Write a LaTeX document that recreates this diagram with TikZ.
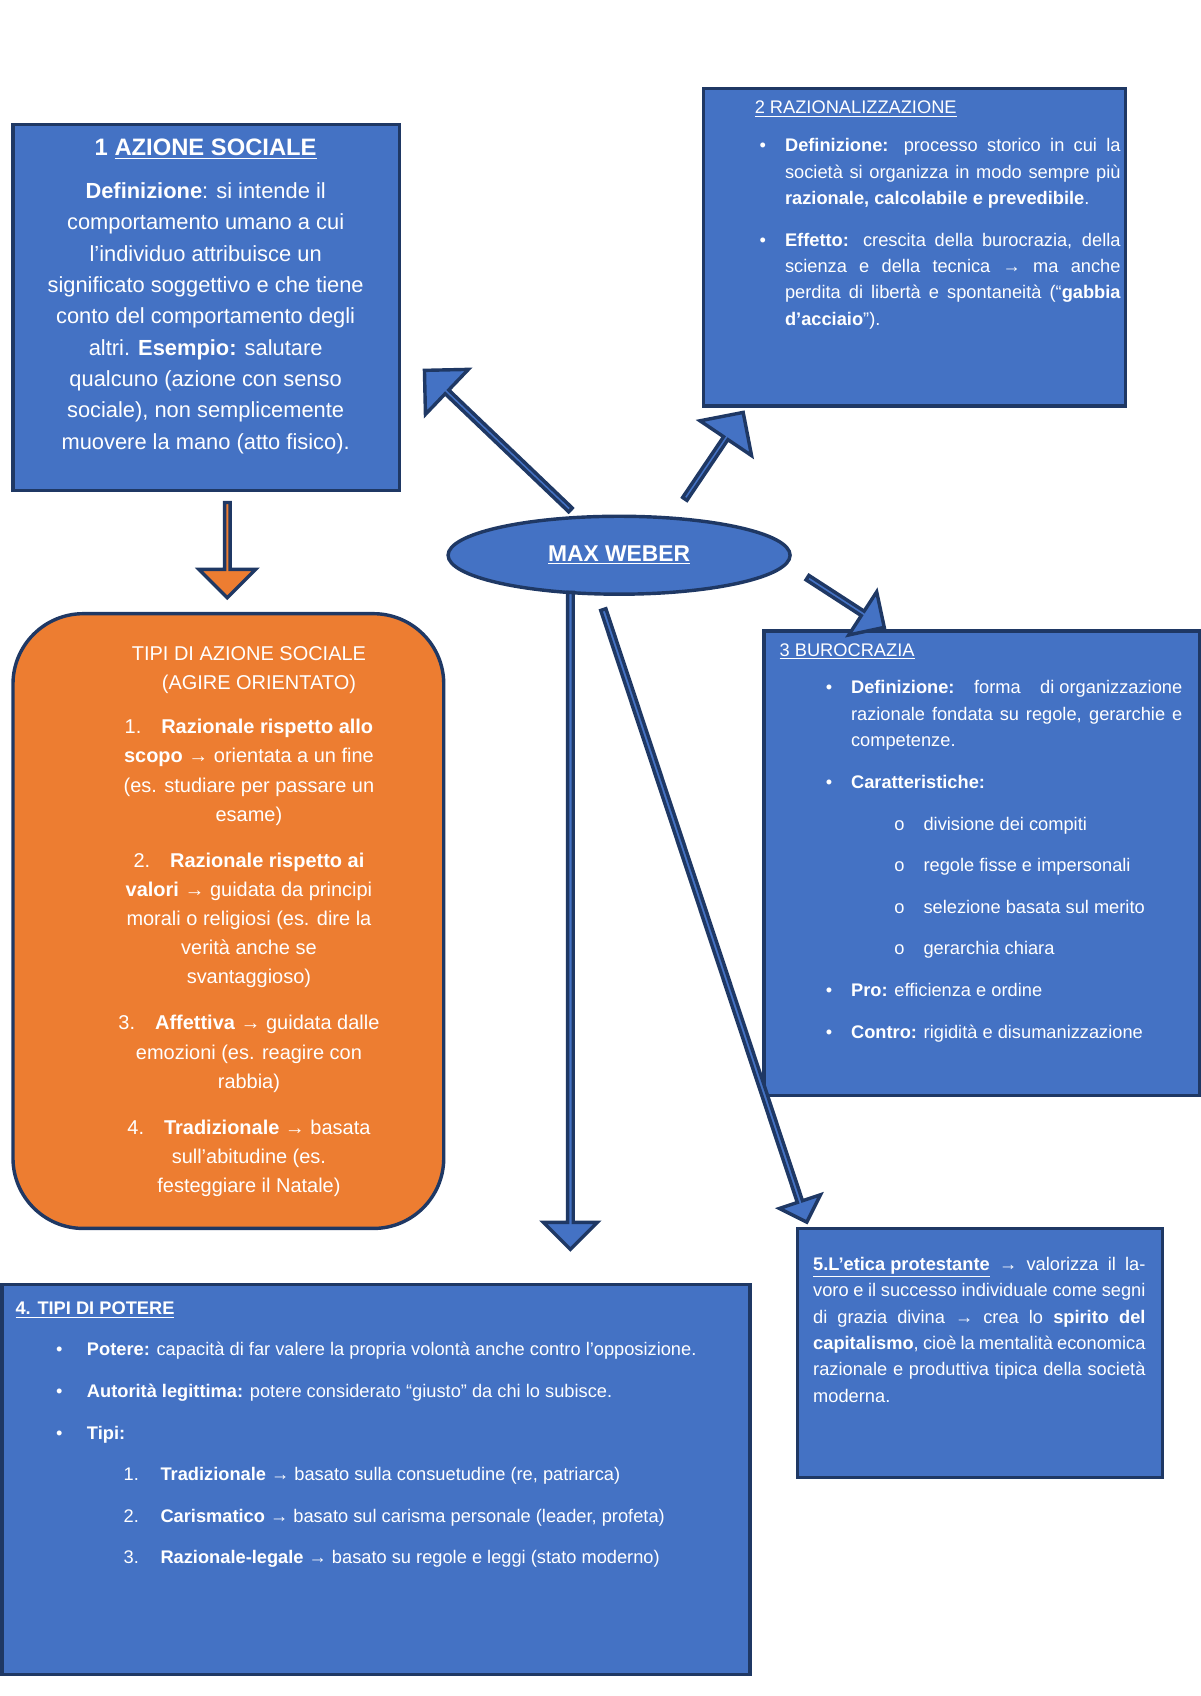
\documentclass[tikz,border=0pt]{standalone}
\usepackage{fontspec}
\setmainfont{Liberation Sans}
\usepackage{enumitem}
\usetikzlibrary{shapes.geometric,shapes.arrows,calc}
\definecolor{bl}{HTML}{4472C4}
\definecolor{nv}{HTML}{1F3864}
\definecolor{orr}{HTML}{ED7D31}
\newcommand{\barrow}[5]{%
 \path let \p1=($(#2)-(#1)$), \n1={veclen(\x1,\y1)}, \n2={atan2(\y1,\x1)} in
 node[single arrow, draw=nv, line width=1.8pt, fill=#5, minimum height=\n1, minimum width=#4,
  single arrow head extend={(#4-#3)/2}, inner sep=0pt, rotate=\n2, anchor=center]
  at ($(#1)!0.5!(#2)$) {};}
\setlist{nosep}
\tikzset{
 box/.style={draw=nv, line width=1.8pt, fill=bl},
 txt/.style={text=white, inner sep=0pt, anchor=north west, align=justify},
}
\begin{document}
\begin{tikzpicture}[x=0.02cm,y=-0.02cm]
\useasboundingbox (0,0) rectangle (1109,1567);
% boxes
\draw[box] (12,115) rectangle (369,453);
\draw[box] (650,82) rectangle (1040,375);
\draw[box] (706,583) rectangle (1108,1012);
\draw[box] (2,1187) rectangle (693,1547);
\draw[box] (737,1135) rectangle (1074,1365);
\draw[draw=nv, line width=1.8pt, fill=orr, rounded corners=1.3cm] (12,567) rectangle (410,1135);
\node[ellipse, draw=nv, line width=1.8pt, fill=bl, minimum width=316*0.02cm, minimum height=72*0.02cm, text=white, font=\bfseries\fontsize{12}{14}\selectfont] (mw) at (572,513) {\underline{MAX WEBER}};
% arrow coordinates
\coordinate (o1) at (210,463); \coordinate (e1) at (210,551);
\coordinate (a1) at (528,472); \coordinate (b1) at (393,343);
\coordinate (a2) at (632,462); \coordinate (b2) at (686,382);
\coordinate (a3) at (745,533); \coordinate (b3) at (816,579);
\coordinate (a4) at (527,546); \coordinate (b4) at (527,1153);
\coordinate (a5) at (557,562); \coordinate (b5) at (745,1128);
\barrow{o1}{e1}{0.46cm}{1.05cm}{orr}
\barrow{a1}{b1}{0.46cm}{1.15cm}{bl}
\barrow{a2}{b2}{0.46cm}{1.15cm}{bl}
\barrow{a3}{b3}{0.40cm}{0.95cm}{bl}
\barrow{a4}{b4}{0.46cm}{1.0cm}{bl}
\barrow{a5}{b5}{0.36cm}{0.8cm}{bl}
% box 1
\node[text=white, inner sep=0pt, anchor=north, align=center, font=\fontsize{11.5}{16.5}\selectfont] (t1) at (190,128)
{{\bfseries\fontsize{12.5}{16}\selectfont 1 \underline{AZIONE SOCIALE}}\\[6pt]
\textbf{Definizione}: si intende il\\
comportamento umano a cui\\
l’individuo attribuisce un\\
significato soggettivo e che tiene\\
conto del comportamento degli\\
altri. \textbf{Esempio:} salutare\\
qualcuno (azione con senso\\
sociale), non semplicemente\\
muovere la mano (atto fisico).};
% box 2
\node[txt, text width=338*0.02cm, font=\fontsize{9.6}{13.9}\selectfont] (t2) at (697,93)
{\underline{2 RAZIONALIZZAZIONE}
\begin{itemize}[leftmargin=0.56cm, labelsep=0.35cm, topsep=6pt, itemsep=8pt]
\item \textbf{Definizione:} processo storico in cui la società si organizza in modo sempre più \textbf{razionale, calcolabile e prevedibile}.
\item \textbf{Effetto:} crescita della burocrazia, della scienza e della tecnica → ma anche perdita di libertà e spontaneità (“\textbf{gabbia d’acciaio}”).
\end{itemize}};
% box 3
\node[txt, text width=372*0.02cm, font=\fontsize{9.6}{13.9}\selectfont] (t3) at (720,594)
{\underline{3 BUROCRAZIA}
\begin{itemize}[leftmargin=1.32cm, labelsep=0.35cm, topsep=6pt, itemsep=8pt]
\item \textbf{Definizione:}\hfill forma\hfill di organizzazione razionale fondata su regole, gerarchie e competenze.
\item \textbf{Caratteristiche:}
\begin{itemize}[label=o, leftmargin=1.34cm, labelsep=0.35cm, topsep=8pt, itemsep=8pt]
\item divisione dei compiti
\item regole fisse e impersonali
\item selezione basata sul merito
\item gerarchia chiara
\end{itemize}
\item \textbf{Pro:} efficienza e ordine
\item \textbf{Contro:} rigidità e disumanizzazione
\end{itemize}};
% box 4
\node[txt, text width=664*0.02cm, font=\fontsize{9.6}{13.9}\selectfont] (t4) at (14,1202)
{\textbf{\underline{4. TIPI DI POTERE}}
\begin{itemize}[leftmargin=1.32cm, labelsep=0.45cm, topsep=8pt, itemsep=8pt]
\item \textbf{Potere:} capacità di far valere la propria volontà anche contro l’opposizione.
\item \textbf{Autorità legittima:} potere considerato “giusto” da chi lo subisce.
\item \textbf{Tipi:}
\begin{enumerate}[leftmargin=1.36cm, labelsep=0.4cm, topsep=8pt, itemsep=8pt]
\item \textbf{Tradizionale} → basato sulla consuetudine (re, patriarca)
\item \textbf{Carismatico} → basato sul carisma personale (leader, profeta)
\item \textbf{Razionale-legale} → basato su regole e leggi (stato moderno)
\end{enumerate}
\end{itemize}};
% box 5
\node[txt, text width=307*0.02cm, font=\fontsize{9.6}{13.9}\selectfont] (t5) at (751,1161)
{\textbf{\underline{5.L’etica protestante}} → valorizza il lavoro e il successo individuale come segni di grazia divina → crea lo \textbf{spirito del capitalismo}, cioè la mentalità economica razionale e produttiva tipica della società moderna.};
% orange
\node[text=white, inner sep=0pt, anchor=north, align=center, font=\fontsize{10.5}{15.3}\selectfont] (to) at (230,597)
{TIPI DI AZIONE SOCIALE\\
\phantom{xx}(AGIRE ORIENTATO)\\[8pt]
1.\quad\textbf{Razionale rispetto allo}\\
\textbf{scopo} → orientata a un fine\\
(es. studiare per passare un\\
esame)\\[9pt]
2.\quad\textbf{Razionale rispetto ai}\\
\textbf{valori} → guidata da principi\\
morali o religiosi (es. dire la\\
verità anche se\\
svantaggioso)\\[9pt]
3.\quad\textbf{Affettiva} → guidata dalle\\
emozioni (es. reagire con\\
rabbia)\\[9pt]
4.\quad\textbf{Tradizionale} → basata\\
sull’abitudine (es.\\
festeggiare il Natale)};
\end{tikzpicture}
\end{document}
